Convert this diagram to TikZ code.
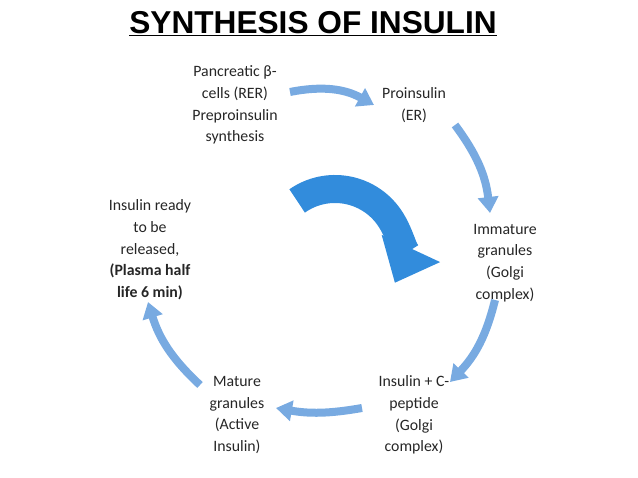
\documentclass[tikz,border=0pt]{standalone}
\usepackage{fontspec}
\setmainfont{Carlito}
\newfontfamily\titlefont{Liberation Sans}
\usetikzlibrary{arrows.meta,positioning}

\definecolor{flowblue}{RGB}{120,170,225}
\definecolor{bigblue}{RGB}{50,140,220}

\tikzset{
  stage/.style={align=center, font=\fontsize{13.5}{18.5}\selectfont, text=black!85},
  flow/.style={draw=flowblue, line width=0.24cm, -{Triangle[width=0.6cm,length=0.48cm]}},
}

\begin{document}
\begin{tikzpicture}[x=0.03cm,y=0.03cm]
        \useasboundingbox (0,0) rectangle (638,478);

        % title
        \node (title) at (313,454) {\titlefont\fontsize{27}{30}\selectfont\bfseries\underline{SYNTHESIS OF INSULIN}};

        % stages
        \node[stage] (pre) at (235,373) {Pancreatic β-\\cells (RER)\\Preproinsulin\\synthesis};
        \node[stage] (pro) at (414,373) {Proinsulin\\(ER)};
        \node[stage] (imm) at (505,215) {Immature\\granules\\(Golgi\\complex)};
        \node[stage] (cpep) at (414,63) {Insulin + C-\\peptide\\(Golgi\\complex)};
        \node[stage] (mat) at (237,63) {Mature\\granules\\(Active\\Insulin)};
        \node[stage] (rel) at (150,228) {Insulin ready\\to be\\released,\\\textbf{(Plasma half}\\\textbf{life 6 min)}};

        % arrows
        \coordinate (a1) at (290,386); \coordinate (b1) at (374,373);
        \coordinate (a2) at (455,353); \coordinate (b2) at (490,265);
        \coordinate (a3) at (495,178); \coordinate (b3) at (450,96);
        \coordinate (a4) at (362,70);  \coordinate (b4) at (276,70);
        \coordinate (a5) at (200,93);  \coordinate (b5) at (148,176);
        \draw[flow] (a1) to[bend left=20] (b1);
        \draw[flow] (a2) to[bend left=15] (b2);
        \draw[flow] (a3) to[bend left=15] (b3);
        \draw[flow] (a4) to[bend left=10] (b4);
        \draw[flow] (a5) to[bend left=15] (b5);

        % centre arrow
        \draw[bigblue, line width=0.84cm, -{Triangle[width=1.86cm,length=1.14cm]}]
          (335,223) ++(125:66) arc[radius=66, start angle=125, end angle=-25];
      \end{tikzpicture}
\end{document}
